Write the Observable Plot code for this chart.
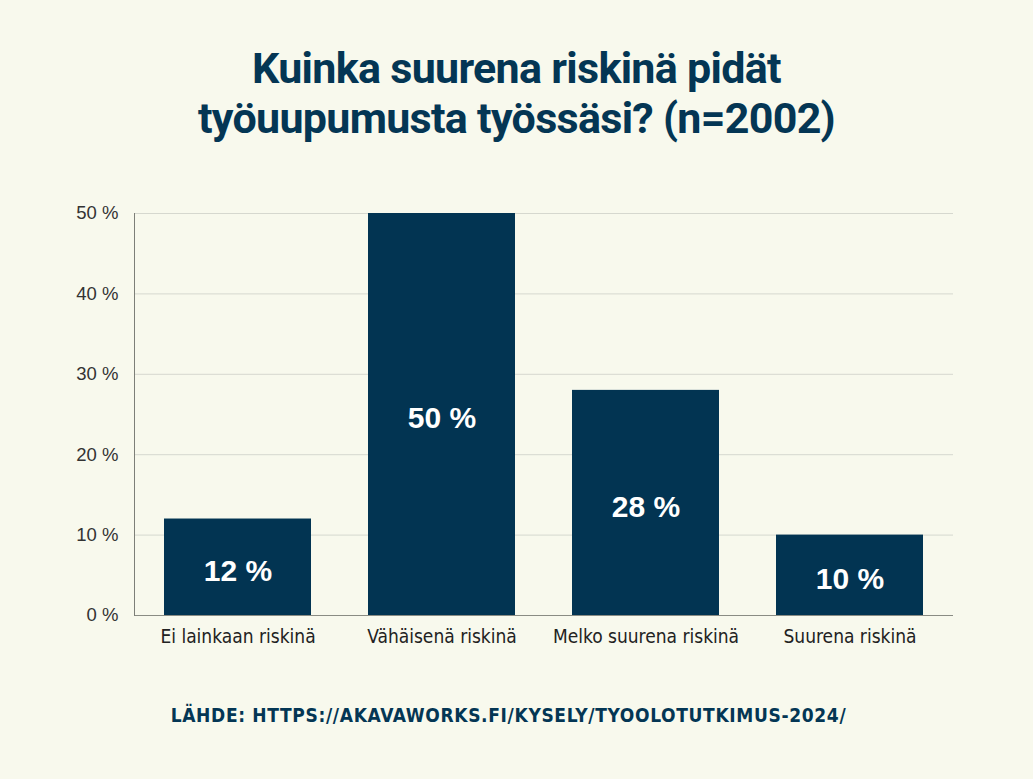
<!DOCTYPE html>
<html><head><meta charset="utf-8">
<script src="https://cdn.jsdelivr.net/npm/d3@7"></script>
<script src="https://cdn.jsdelivr.net/npm/@observablehq/plot@0.6"></script>
<style>
html,body{margin:0;padding:0;background:#f8f9ed;}
#wrap{position:relative;width:1033px;height:779px;background:#f8f9ed;overflow:hidden;}
#title{position:absolute;top:43px;left:0;width:1033px;text-align:center;font-family:Roboto,sans-serif;font-weight:bold;font-size:43px;line-height:50px;letter-spacing:-0.7px;color:#043654;}
#chart{position:absolute;top:190px;left:0;}
#cap{position:absolute;top:704px;left:-8px;width:1033px;text-align:center;font-family:"DejaVu Sans Condensed",sans-serif;font-weight:bold;font-size:19px;letter-spacing:0.65px;color:#043654;}
</style></head>
<body><div id="wrap">
<div id="title">Kuinka suurena riskinä pidät<br>työuupumusta työssäsi? (n=2002)</div>
<div id="chart"></div>
<div id="cap">LÄHDE: HTTPS://AKAVAWORKS.FI/KYSELY/TYOOLOTUTKIMUS-2024/</div>
</div>
<script>
const categories = ["Ei lainkaan riskinä","Vähäisenä riskinä","Melko suurena riskinä","Suurena riskinä"];
const values = [12, 50, 28, 10];
const yTicks = [0, 10, 20, 30, 40, 50];
const data = categories.map((c,i)=>({cat:c, v:values[i]}));
const navy = "#023452";
const plot = Plot.plot({
  width: 1033, height: 470,
  marginTop: 23, marginBottom: 45, marginLeft: 134, marginRight: 80,
  style: {background: "transparent", fontFamily: "Liberation Sans, Arial, sans-serif"},
  x: {domain: categories, paddingInner: 0.28, paddingOuter: 0.14, label: null},
  y: {domain: [0, 50], label: null},
  marks: [
    Plot.gridY(yTicks, {stroke: "#d6d8cf", strokeOpacity: 1}),
    Plot.barY(data, {x: "cat", y: "v", fill: navy}),
    Plot.ruleY([0], {stroke: "#8a8c84", strokeWidth: 1.2}),
    Plot.frame({anchor: "left", stroke: "#7d7f78"}),
    Plot.text(data, {x: "cat", y: d => d.v / 2, text: d => d.v + " %", fill: "white", fontSize: 30, fontWeight: "bold", fontFamily: "Liberation Sans, Arial, sans-serif", dy: 4}),
    Plot.axisY({ticks: yTicks, tickFormat: d => d + " %", tickSize: 0, tickPadding: 16, fontSize: 18.5, fill: "#333", label: null}),
    Plot.axisX({tickSize: 0, tickPadding: 14, fontSize: 19, fill: "#222", fontFamily: "DejaVu Sans Condensed, sans-serif", label: null})
  ]
});
document.getElementById("chart").appendChild(plot);
</script>
</body></html>
